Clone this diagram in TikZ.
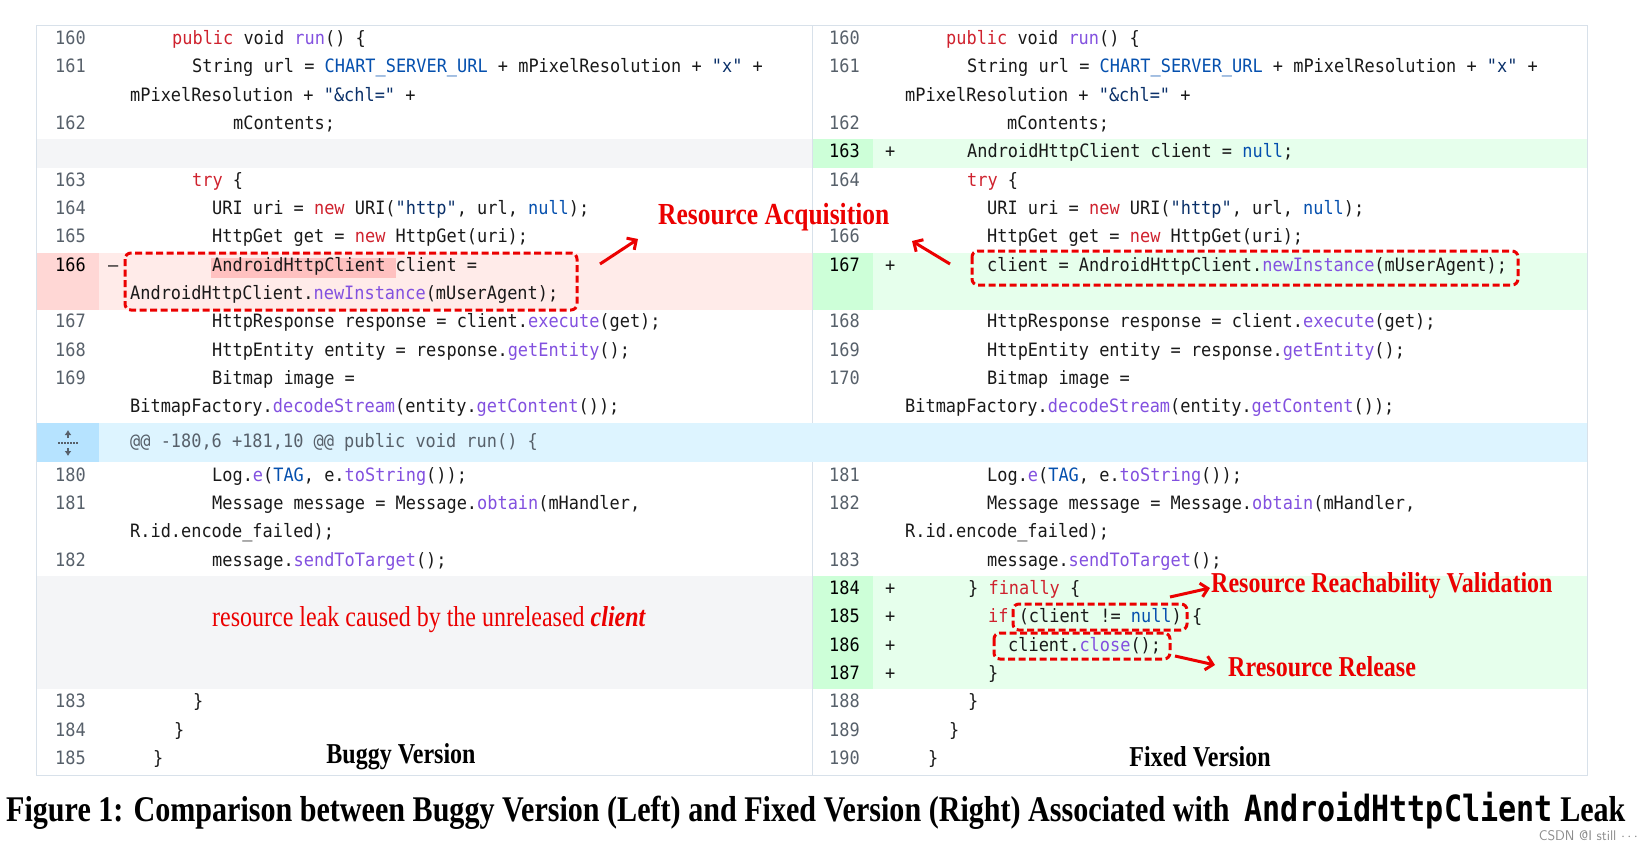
\documentclass[tikz,border=0pt]{standalone}
\usepackage{fontspec}
\usepackage{graphicx}
\usetikzlibrary{arrows.meta}
\setmainfont{Liberation Serif}
\newfontfamily\codefont{DejaVu Sans Mono}[FakeStretch=0.92]
\newfontfamily\capmono{DejaVu Sans Mono}
\definecolor{kwc}{RGB}{207,34,46}
\definecolor{fnc}{RGB}{130,80,223}
\definecolor{cnc}{RGB}{5,80,174}
\definecolor{csc}{RGB}{10,48,105}
\definecolor{numg}{RGB}{87,96,106}
\definecolor{redrow}{RGB}{255,235,233}
\definecolor{redgut}{RGB}{255,215,213}
\definecolor{redhl}{RGB}{255,193,192}
\definecolor{greenrow}{RGB}{230,255,236}
\definecolor{greengut}{RGB}{205,255,216}
\definecolor{grayrow}{RGB}{244,245,247}
\definecolor{hunkrow}{RGB}{221,244,255}
\definecolor{hunkgut}{RGB}{182,227,255}
\definecolor{bord}{RGB}{216,225,234}
\definecolor{annot}{RGB}{235,0,0}
\newcommand{\kw}[1]{\textcolor{kwc}{#1}}
\newcommand{\fn}[1]{\textcolor{fnc}{#1}}
\newcommand{\cn}[1]{\textcolor{cnc}{#1}}
\newcommand{\cs}[1]{\textcolor{csc}{#1}}
\newcommand{\us}{\symbol{95}}
\newcommand{\tall}[1]{\scalebox{1}[1.2]{#1}}
\begin{document}
\begin{tikzpicture}[x=1pt,y=-1pt,
  code/.style={font=\codefont\fontsize{18.4}{20}\selectfont, anchor=west, inner sep=0pt, text height=13pt, text depth=4pt, text=black!90},
  num/.style={code, text=numg},
  bnum/.style={code, text=black},
  annlab/.style={font=\fontsize{24}{26}\selectfont\bfseries, text=annot, inner sep=1pt, anchor=west},
  dbox/.style={draw=annot, line width=3pt, dash pattern=on 7pt off 3.5pt, rounded corners=6pt},
  rarrow/.style={draw=annot, line width=3pt, -{Straight Barb[length=7pt,width=14pt,line width=3pt]}},
  ver/.style={font=\fontsize{24}{26}\selectfont\bfseries, inner sep=0pt}]
\useasboundingbox (0,0) rectangle (1650,846);
% backgrounds
\fill[grayrow] (36,139) rectangle (812,168);
\fill[redrow] (36,253) rectangle (812,310);
\fill[redgut] (36,253) rectangle (99,310);
\fill[redhl] (211,258) rectangle (396,278);
\fill[hunkrow] (36,423) rectangle (1587,462);
\fill[hunkgut] (36,423) rectangle (99,462);
\fill[grayrow] (36,576) rectangle (812,689);
\fill[greenrow] (812,139) rectangle (1587,168);
\fill[greengut] (812,139) rectangle (873,168);
\fill[greenrow] (812,253) rectangle (1587,310);
\fill[greengut] (812,253) rectangle (873,310);
\fill[greenrow] (812,576) rectangle (1587,689);
\fill[greengut] (812,576) rectangle (873,689);
\draw[bord, line width=1pt] (36,25) rectangle (1587,775);
\draw[bord, line width=1pt] (812,25) -- (812,423);
\draw[bord, line width=1pt] (812,462) -- (812,775);
% hunk icon
\draw[numg, line width=1.2pt, -{Latex[length=5pt,width=7pt]}] (68,438) -- (68,430);
\draw[numg, line width=1.2pt, -{Latex[length=5pt,width=7pt]}] (68,448) -- (68,456);
\draw[numg, line width=1.2pt, dash pattern=on 1.5pt off 1.5pt] (58,443) -- (78,443);
\node[code, text=numg] (hunk) at (130,443) {@@ -180,6 +181,10 @@ public void run() \{};
% ---------- left code ----------
\node[num] (l160) at (55,40) {160};
\node[code] at (172,40) {\kw{public} void \fn{run}() \{};
\node[num] (l161) at (55,68) {161};
\node[code] at (192,68) {String url = \cn{CHART\us SERVER\us URL} + mPixelResolution + \cs{"x"} +};
\node[code] at (130,97) {mPixelResolution + \cs{"\&chl="} +};
\node[num] (l162) at (55,125) {162};
\node[code] at (233,125) {mContents;};
\node[num] (l163) at (55,182) {163};
\node[code] at (192,182) {\kw{try} \{};
\node[num] (l164) at (55,210) {164};
\node[code] at (212,210) {URI uri = \kw{new} URI(\cs{"http"}, url, \cn{null});};
\node[num] (l165) at (55,238) {165};
\node[code] at (212,238) {HttpGet get = \kw{new} HttpGet(uri);};
\node[bnum] (l166) at (55,267) {166};
\node[code] at (108,267) {\textendash};
\node[code] (acqL1) at (212,267) {AndroidHttpClient client =};
\node[code] (acqL2) at (130,295) {AndroidHttpClient.\fn{newInstance}(mUserAgent);};
\node[num] (l167) at (55,323) {167};
\node[code] at (212,323) {HttpResponse response = client.\fn{execute}(get);};
\node[num] (l168) at (55,352) {168};
\node[code] at (212,352) {HttpEntity entity = response.\fn{getEntity}();};
\node[num] (l169) at (55,380) {169};
\node[code] at (212,380) {Bitmap image =};
\node[code] at (130,408) {BitmapFactory.\fn{decodeStream}(entity.\fn{getContent}());};
\node[num] (l180) at (55,477) {180};
\node[code] at (212,477) {Log.\fn{e}(\cn{TAG}, e.\fn{toString}());};
\node[num] (l181) at (55,505) {181};
\node[code] at (212,505) {Message message = Message.\fn{obtain}(mHandler,};
\node[code] at (130,533) {R.id.encode\us failed);};
\node[num] (l182) at (55,562) {182};
\node[code] at (212,562) {message.\fn{sendToTarget}();};
\node[num] (l183) at (55,703) {183};
\node[code] at (193,703) {\}};
\node[num] (l184) at (55,732) {184};
\node[code] at (174,732) {\}};
\node[num] (l185) at (55,760) {185};
\node[code] at (153,760) {\}};
% ---------- right code ----------
\node[num] (r160) at (829,40) {160};
\node[code] at (946,40) {\kw{public} void \fn{run}() \{};
\node[num] (r161) at (829,68) {161};
\node[code] at (967,68) {String url = \cn{CHART\us SERVER\us URL} + mPixelResolution + \cs{"x"} +};
\node[code] at (905,97) {mPixelResolution + \cs{"\&chl="} +};
\node[num] (r162) at (829,125) {162};
\node[code] at (1007,125) {mContents;};
\node[bnum] (r163) at (829,153) {163};
\node[code] at (885,153) {+};
\node[code] at (967,153) {AndroidHttpClient client = \cn{null};};
\node[num] (r164) at (829,182) {164};
\node[code] at (967,182) {\kw{try} \{};
\node[code] at (987,210) {URI uri = \kw{new} URI(\cs{"http"}, url, \cn{null});};
\node[num] (r166) at (829,238) {166};
\node[code] at (987,238) {HttpGet get = \kw{new} HttpGet(uri);};
\node[bnum] (r167) at (829,267) {167};
\node[code] at (885,267) {+};
\node[code] (acqR) at (987,267) {client = AndroidHttpClient.\fn{newInstance}(mUserAgent);};
\node[num] (r168) at (829,323) {168};
\node[code] at (987,323) {HttpResponse response = client.\fn{execute}(get);};
\node[num] (r169) at (829,352) {169};
\node[code] at (987,352) {HttpEntity entity = response.\fn{getEntity}();};
\node[num] (r170) at (829,380) {170};
\node[code] at (987,380) {Bitmap image =};
\node[code] at (905,408) {BitmapFactory.\fn{decodeStream}(entity.\fn{getContent}());};
\node[num] (r181) at (829,477) {181};
\node[code] at (987,477) {Log.\fn{e}(\cn{TAG}, e.\fn{toString}());};
\node[num] (r182) at (829,505) {182};
\node[code] at (987,505) {Message message = Message.\fn{obtain}(mHandler,};
\node[code] at (905,533) {R.id.encode\us failed);};
\node[num] (r183) at (829,562) {183};
\node[code] at (987,562) {message.\fn{sendToTarget}();};
\node[bnum] (r184) at (829,590) {184};
\node[code] at (885,590) {+};
\node[code] at (968,590) {\} \kw{finally} \{};
\node[bnum] (r185) at (829,618) {185};
\node[code] at (885,618) {+};
\node[code] at (988,618) {\kw{if} (client != \cn{null}) \{};
\node[bnum] (r186) at (829,647) {186};
\node[code] at (885,647) {+};
\node[code] at (1008,647) {client.\fn{close}();};
\node[bnum] (r187) at (829,675) {187};
\node[code] at (885,675) {+};
\node[code] at (988,675) {\}};
\node[num] (r188) at (829,703) {188};
\node[code] at (968,703) {\}};
\node[num] (r189) at (829,732) {189};
\node[code] at (949,732) {\}};
\node[num] (r190) at (829,760) {190};
\node[code] at (928,760) {\}};
% ---------- annotations ----------
\draw[dbox] (125,253) rectangle (577,310);
\draw[dbox] (972,251) rectangle (1518,285);
\draw[dbox] (1013,604) rectangle (1187,630);
\draw[dbox] (994,633) rectangle (1170,659);
\node[annlab, font=\fontsize{25.5}{27}\selectfont\bfseries] (acq) at (657,217) {\tall{Resource Acquisition}};
\node[annlab] (reach) at (1210,586) {\tall{Resource Reachability Validation}};
\node[annlab] (rel) at (1227,667) {\tall{Rresource Release}};
\coordinate (a1s) at (600,264); \coordinate (a1e) at (638,239);
\coordinate (a2s) at (950,264); \coordinate (a2e) at (912,241);
\coordinate (a3s) at (1170,597); \coordinate (a3e) at (1210,588);
\coordinate (a4s) at (1175,656); \coordinate (a4e) at (1215,665);
\draw[rarrow] (a1s) -- (a1e);
\draw[rarrow] (a2s) -- (a2e);
\draw[rarrow] (a3s) -- (a3e);
\draw[rarrow] (a4s) -- (a4e);
\node[font=\fontsize{24}{26}\selectfont, text=annot, anchor=west, inner sep=0pt] (leak) at (212,620) {\tall{resource leak caused by the unreleased \textbf{\textit{client}}}};
\node[ver] (buggy) at (401,757) {\tall{Buggy Version}};
\node[ver] (fixed) at (1200,757) {\tall{Fixed Version}};
\node[anchor=west, inner sep=0pt] (cap) at (6,811) {\resizebox{1619pt}{!}{\tall{\bfseries Figure 1: Comparison between Buggy Version (Left) and Fixed Version (Right) Associated with\ \ {\capmono\bfseries AndroidHttpClient} Leak}}};
\node[font=\sffamily\fontsize{14}{15}\selectfont, text=black!45, anchor=east, inner sep=0pt] (wm) at (1638,836) {CSDN @I still $\cdots$};
\end{tikzpicture}
\end{document}
